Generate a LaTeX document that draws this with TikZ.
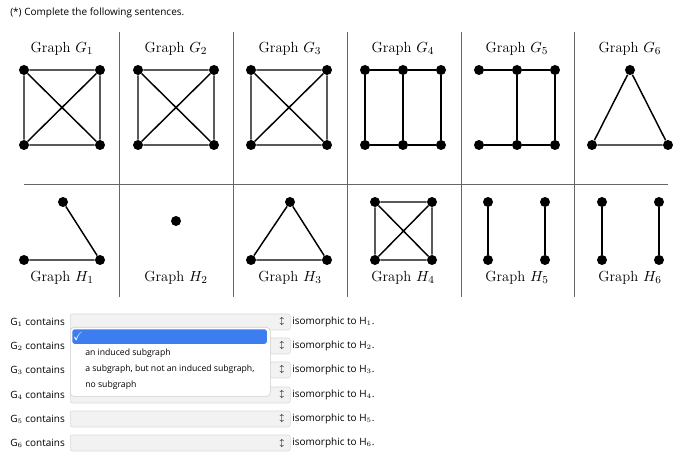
\documentclass[tikz,border=0pt]{standalone}
\usepackage{amssymb}
\usepackage{fontspec}
\newfontfamily\osf{Open Sans}
\definecolor{selblue}{RGB}{60,125,240}
\begin{document}
\begin{tikzpicture}[x=0.75pt,y=-0.75pt,
  v/.style={circle,fill=black,inner sep=0pt,minimum size=7.5pt},
  e/.style={line width=1.1pt},
  sep/.style={draw=black!60,line width=0.6pt},
  ttl/.style={font=\fontsize{11}{13}\selectfont},
  sent/.style={font=\osf\fontsize{7.5}{9}\selectfont,anchor=west,inner sep=0pt},
  opt/.style={font=\osf\fontsize{6.5}{8}\selectfont,anchor=west,inner sep=0pt},
  box/.style={draw=black!15,fill=black!5,rounded corners=1.5pt,minimum width=165pt,minimum height=12pt,anchor=west,inner sep=0pt}]
\useasboundingbox (0,0) rectangle (700,470);
\node[sent] (hd) at (10,13) {(*) Complete the following sentences.};
% grid
\foreach \x in {119,233,347,461,574}{\draw[sep] (\x,32) -- (\x,297);}
\coordinate (hl) at (24,184); \coordinate (hr) at (668,184);
\draw[sep] (hl) -- (hr);
% titles
\node[ttl] (tg1) at (62,49) {Graph $G_1$};
\node[ttl] (tg2) at (176,49) {Graph $G_2$};
\node[ttl] (tg3) at (290,49) {Graph $G_3$};
\node[ttl] (tg4) at (403,49) {Graph $G_4$};
\node[ttl] (tg5) at (517,49) {Graph $G_5$};
\node[ttl] (tg6) at (630,49) {Graph $G_6$};
\node[ttl] (th1) at (62,278) {Graph $H_1$};
\node[ttl] (th2) at (176,278) {Graph $H_2$};
\node[ttl] (th3) at (290,278) {Graph $H_3$};
\node[ttl] (th4) at (403,278) {Graph $H_4$};
\node[ttl] (th5) at (517,278) {Graph $H_5$};
\node[ttl] (th6) at (630,278) {Graph $H_6$};
% K4s
\foreach \g/\l/\r in {a/24/100,b/138/214,c/251/327}{
  \node[v] (\g1) at (\l,70) {}; \node[v] (\g2) at (\r,70) {};
  \node[v] (\g3) at (\l,145) {}; \node[v] (\g4) at (\r,145) {};
  \draw[e] (\g1)--(\g2)--(\g4)--(\g3)--(\g1)--(\g4) (\g2)--(\g3);}
% G4
\node[v] (d1) at (365,70) {}; \node[v] (d2) at (403,70) {}; \node[v] (d3) at (441,70) {};
\node[v] (d4) at (365,145) {}; \node[v] (d5) at (403,145) {}; \node[v] (d6) at (441,145) {};
\draw[e] (d1)--(d2)--(d3) (d4)--(d5)--(d6) (d1)--(d4) (d2)--(d5) (d3)--(d6);
% G5
\node[v] (f1) at (479,70) {}; \node[v] (f2) at (517,70) {}; \node[v] (f3) at (555,70) {};
\node[v] (f4) at (479,145) {}; \node[v] (f5) at (517,145) {}; \node[v] (f6) at (555,145) {};
\draw[e] (f1)--(f2)--(f3) (f4)--(f5)--(f6) (f2)--(f5) (f3)--(f6);
% G6
\node[v] (g1) at (630,70) {}; \node[v] (g2) at (592,145) {}; \node[v] (g3) at (668,145) {};
\draw[e] (g1)--(g2)--(g3)--(g1);
% H1
\node[v] (h1) at (63,202) {}; \node[v] (h2) at (24,260) {}; \node[v] (h3) at (100,260) {};
\draw[e] (h1)--(h3)--(h2);
% H2
\node[v] (i1) at (176,221) {};
% H3
\node[v] (j1) at (290,202) {}; \node[v] (j2) at (251,260) {}; \node[v] (j3) at (327,260) {};
\draw[e] (j1)--(j2)--(j3)--(j1);
% H4
\node[v] (k1) at (375,202) {}; \node[v] (k2) at (432,202) {};
\node[v] (k3) at (375,260) {}; \node[v] (k4) at (432,260) {};
\draw[e] (k1)--(k2)--(k4)--(k3)--(k1)--(k4) (k2)--(k3);
% H5
\node[v] (m1) at (488,202) {}; \node[v] (m2) at (488,260) {};
\node[v] (m3) at (545,202) {}; \node[v] (m4) at (545,260) {};
\draw[e] (m1)--(m2) (m3)--(m4);
% H6
\node[v] (n1) at (602,202) {}; \node[v] (n2) at (602,260) {};
\node[v] (n3) at (659,202) {}; \node[v] (n4) at (659,260) {};
\draw[e] (n1)--(n2) (n3)--(n4);
% sentences
\foreach \i/\y in {1/322,2/346,3/370,4/395,5/419,6/443}{
  \node[sent] (c\i) at (10,\y) {G$_{\i}$ contains};
  \node[box] (b\i) at (70,\y) {};
  \node[font=\fontsize{6}{6}\selectfont,inner sep=0pt] (ar\i) at (282,\y) {$\updownarrow$};
  \node[sent] (iso\i) at (292,\y) {isomorphic to H$_{\i}$.};}
% popup
\node[draw=black!20,fill=white,rounded corners=3pt,minimum width=150pt,minimum height=52pt,anchor=north west,inner sep=0pt] (pop) at (70,327) {};
\node[fill=selblue,rounded corners=2pt,minimum width=146pt,minimum height=11pt,anchor=north west,inner sep=0pt] (sel) at (72,329) {};
\node[text=white,font=\small,inner sep=0pt] (chk) at (78,336) {$\checkmark$};
\node[opt] (o1) at (85,353) {an induced subgraph};
\node[opt] (o2) at (85,369) {a subgraph, but not an induced subgraph,};
\node[opt] (o3) at (85,385) {no subgraph};
\end{tikzpicture}
\end{document}
